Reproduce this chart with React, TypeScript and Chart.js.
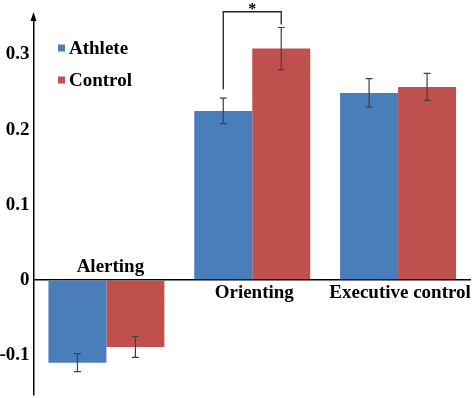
import React, { useEffect, useRef } from 'react';
import { Chart, registerables } from 'chart.js';

Chart.register(...registerables);

const categories = ['Alerting', 'Orienting', 'Executive control'];
const seriesNames = ['Athlete', 'Control'];
const athleteValues = [-0.11, 0.225, 0.249];
const controlValues = [-0.089, 0.308, 0.257];
const athleteErrors = [0.012, 0.017, 0.019];
const controlErrors = [0.014, 0.028, 0.018];
const yTickValues = [-0.1, 0, 0.1, 0.2, 0.3];
const yTickLabels = ['-0.1', '0', '0.1', '0.2', '0.3'];
const significantCategory = 1;
const significanceLevel = 0.357;
const significanceMark = '*';

const BLUE = '#4a7ebb';
const RED = '#c0504d';
const FONT = '"Liberation Serif", "Times New Roman", serif';
const seriesColors = [BLUE, RED];
const errorSets = [athleteErrors, controlErrors];
const valueSets = [athleteValues, controlValues];

const decorPlugin = {
  id: 'decor',
  afterDatasetsDraw(chart: any) {
    const ctx = chart.ctx;
    const yScale = chart.scales.y;
    const xScale = chart.scales.x;
    const area = chart.chartArea;
    ctx.save();

    // error bars
    ctx.strokeStyle = '#404040';
    ctx.lineWidth = 1.2;
    for (let d = 0; d < 2; d++) {
      const meta = chart.getDatasetMeta(d);
      meta.data.forEach((el: any, i: number) => {
        const v = valueSets[d][i];
        const e = errorSets[d][i];
        const yT = yScale.getPixelForValue(v + e);
        const yB = yScale.getPixelForValue(v - e);
        ctx.beginPath();
        ctx.moveTo(el.x, yT);
        ctx.lineTo(el.x, yB);
        ctx.moveTo(el.x - 3.5, yT);
        ctx.lineTo(el.x + 3.5, yT);
        ctx.moveTo(el.x - 3.5, yB);
        ctx.lineTo(el.x + 3.5, yB);
        ctx.stroke();
      });
    }

    // significance bracket
    const m0 = chart.getDatasetMeta(0).data[significantCategory];
    const m1 = chart.getDatasetMeta(1).data[significantCategory];
    if (m0 && m1) {
      const topY = yScale.getPixelForValue(significanceLevel);
      const lb = yScale.getPixelForValue(athleteValues[significantCategory] + athleteErrors[significantCategory]) - 9;
      const rb = yScale.getPixelForValue(controlValues[significantCategory] + controlErrors[significantCategory]) - 3;
      ctx.strokeStyle = '#222';
      ctx.lineWidth = 1.3;
      ctx.beginPath();
      ctx.moveTo(m0.x, lb);
      ctx.lineTo(m0.x, topY);
      ctx.lineTo(m1.x, topY);
      ctx.lineTo(m1.x, rb);
      ctx.stroke();
      ctx.fillStyle = '#000';
      ctx.font = 'bold 16px ' + FONT;
      ctx.textAlign = 'center';
      ctx.textBaseline = 'alphabetic';
      ctx.fillText(significanceMark, (m0.x + m1.x) / 2, topY + 2);
    }

    // category labels
    const zeroY = yScale.getPixelForValue(0);
    ctx.fillStyle = '#000';
    ctx.font = 'bold 19px ' + FONT;
    ctx.textAlign = 'center';
    ctx.textBaseline = 'middle';
    categories.forEach((c, i) => {
      const x = xScale.getPixelForValue(i);
      const neg = athleteValues[i] < 0 && controlValues[i] < 0;
      ctx.fillText(c, x + (neg ? 4 : 2), neg ? zeroY - 13 : zeroY + 13);
    });

    // legend
    ctx.textAlign = 'left';
    seriesNames.forEach((n, i) => {
      const y = 48 + i * 32;
      ctx.fillStyle = seriesColors[i];
      ctx.fillRect(58, y - 3.5, 7, 7);
      ctx.fillStyle = '#000';
      ctx.fillText(n, 69, y + 1);
    });

    // axis arrow
    const ax = area.left;
    ctx.fillStyle = '#000';
    ctx.beginPath();
    ctx.moveTo(ax, area.top - 8);
    ctx.lineTo(ax - 3, area.top + 1);
    ctx.lineTo(ax + 3, area.top + 1);
    ctx.closePath();
    ctx.fill();

    ctx.restore();
  },
};

export default function App() {
  const ref = useRef<HTMLCanvasElement | null>(null);
  useEffect(() => {
    document.body.style.margin = '0';
    if (!ref.current) return;
    const chart = new Chart(ref.current, {
      type: 'bar',
      data: {
        labels: categories,
        datasets: [
          { label: seriesNames[0], data: athleteValues, backgroundColor: BLUE, categoryPercentage: 0.795, barPercentage: 1 },
          { label: seriesNames[1], data: controlValues, backgroundColor: RED, categoryPercentage: 0.795, barPercentage: 1 },
        ],
      },
      options: {
        responsive: false,
        animation: false,
        layout: { padding: { top: 20, bottom: 3, left: 0, right: 3 } },
        plugins: { legend: { display: false }, tooltip: { enabled: false } },
        scales: {
          x: { display: false },
          y: {
            min: -0.153,
            max: 0.346,
            afterBuildTicks: (scale: any) => {
              scale.ticks = yTickValues.map((v) => ({ value: v }));
            },
            afterFit: (scale: any) => {
              scale.width = 33.5;
              scale.paddingTop = 0;
              scale.paddingBottom = 0;
            },
            ticks: {
              color: '#000',
              padding: 4,
              font: { family: FONT, size: 19, weight: 'bold' },
              callback: (v: any) => {
                const idx = yTickValues.findIndex((t) => Math.abs(t - v) < 1e-9);
                return idx >= 0 ? yTickLabels[idx] : '';
              },
            },
            grid: {
              drawTicks: false,
              lineWidth: 1.5,
              color: (c: any) => (c.tick && Math.abs(c.tick.value) < 1e-9 ? '#000' : 'rgba(0,0,0,0)'),
            },
            border: { display: true, color: '#000', width: 1.5 },
          },
        },
      },
      plugins: [decorPlugin],
    });
    return () => chart.destroy();
  }, []);
  return (
    <div style={{ width: 474, height: 398 }}>
      <canvas ref={ref} width={474} height={398} />
    </div>
  );
}
